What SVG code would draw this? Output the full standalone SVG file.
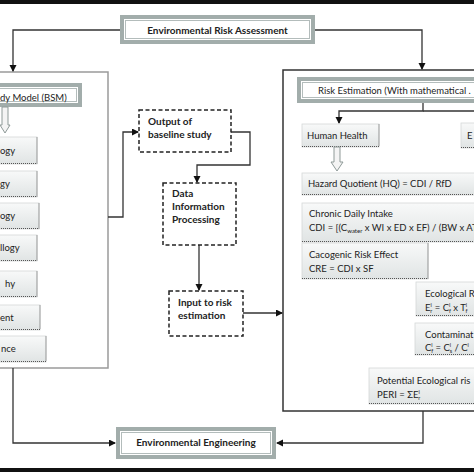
<svg xmlns="http://www.w3.org/2000/svg" width="474" height="474" viewBox="0 0 474 474">
<defs>
<linearGradient id="g" x1="0" y1="0" x2="0" y2="1">
<stop offset="0" stop-color="#f8f9f9"/>
<stop offset="1" stop-color="#e0e4e4"/>
</linearGradient>
<marker id="arr" markerWidth="8" markerHeight="8" refX="6" refY="3.5" orient="auto" markerUnits="userSpaceOnUse">
<path d="M0,0 L7,3.5 L0,7 Z" fill="#111"/>
</marker>
<style>
.t{font-family:Lato,"Liberation Sans",sans-serif;font-size:9.5px;fill:#222}
.b{font-family:Lato,"Liberation Sans",sans-serif;font-size:10px;font-weight:bold;fill:#222}
.dout{fill:#fff;stroke:#a2adab;stroke-width:4}
.din{fill:none;stroke:#b3bcbb;stroke-width:1}
.gb{fill:url(#g);stroke:#d4d8d8;stroke-width:0.8}
.dot{fill:none;stroke:#555;stroke-width:1;stroke-dasharray:1 1}
.dash{fill:#fff;stroke:#222;stroke-width:1.5;stroke-dasharray:4 2.5}
.c{fill:none;stroke:#333;stroke-width:1.3}
.ha{fill:#f4f4f4;stroke:#8f9a98;stroke-width:1}
</style>
</defs>
<rect x="0" y="0" width="474" height="474" fill="#fff"/>
<rect x="0" y="0" width="474" height="4" fill="#111"/>
<rect x="0" y="468" width="474" height="4" fill="#111"/>

<g id="left-panel">
<rect x="-2" y="72" width="110" height="296" fill="#fff" stroke="#9a9a9a" stroke-width="1.5"/>
</g>
<g id="right-panel">
<rect x="283" y="70" width="200" height="341" fill="#fff" stroke="#333" stroke-width="1.5"/>
</g>

<g id="connectors">
<path class="c" d="M120,30 H13 V71" marker-end="url(#arr)"/>
<path class="c" d="M315,30 H422 V69" marker-end="url(#arr)"/>
<path class="c" d="M108,217 H123 V132 H138" marker-end="url(#arr)"/>
<path class="c" d="M231,132 H250 V165 H197 V182" marker-end="url(#arr)"/>
<path class="c" d="M199,245 V290" marker-end="url(#arr)"/>
<path class="c" d="M243,313 H282" marker-end="url(#arr)"/>
<path class="c" d="M423,103 V111 H339 V123" marker-end="url(#arr)"/>
<path class="c" d="M423,111 H474"/>
<path class="c" d="M13,368 V443 H115" marker-end="url(#arr)"/>
<path class="c" d="M423,411 V443 H277" marker-end="url(#arr)"/>
</g>

<g id="era">
<rect class="dout" x="122" y="17" width="191" height="25"/>
<rect class="din" x="125.5" y="20.5" width="184" height="18"/>
<text class="b" x="217.5" y="34" text-anchor="middle">Environmental Risk Assessment</text>
</g>

<g id="bsm">
<rect class="dout" x="-8" y="85" width="88" height="20"/>
<rect class="din" x="-4.5" y="88.5" width="81" height="13"/>
<text class="t" x="0" y="101">dy Model (BSM)</text>
</g>
<g id="bsm-arrow">
<path class="ha" d="M2,107 H8 V125 H10 L5,133 L0,125 H2 Z"/>
</g>

<g id="l1"><rect class="gb" x="-5" y="137" width="42" height="27"/><path class="dot" d="M-5,163.5 H37 V137"/><text class="t" x="0" y="154">ogy</text></g>
<g id="l2"><rect class="gb" x="-5" y="171" width="42" height="26"/><path class="dot" d="M-5,196.5 H37 V171"/><text class="t" x="0" y="187">gy</text></g>
<g id="l3"><rect class="gb" x="-5" y="203" width="44" height="26"/><path class="dot" d="M-5,228.5 H39 V203"/><text class="t" x="0" y="219">ogy</text></g>
<g id="l4"><rect class="gb" x="-5" y="235" width="42" height="26"/><path class="dot" d="M-5,260.5 H37 V235"/><text class="t" x="0" y="251">llogy</text></g>
<g id="l5"><rect class="gb" x="-5" y="271" width="42" height="26"/><path class="dot" d="M-5,296.5 H37 V271"/><text class="t" x="5" y="287">hy</text></g>
<g id="l6"><rect class="gb" x="-5" y="305" width="45" height="25"/><path class="dot" d="M-5,329.5 H40 V305"/><text class="t" x="0" y="321">ent</text></g>
<g id="l7"><rect class="gb" x="-5" y="336" width="51" height="26"/><path class="dot" d="M-5,361.5 H46 V336"/><text class="t" x="1" y="352">nce</text></g>

<g id="output">
<rect class="dash" x="139" y="110" width="92" height="42"/>
<text class="b" x="148" y="125">Output of</text>
<text class="b" x="148" y="138">baseline study</text>
</g>
<g id="data">
<rect class="dash" x="163" y="183" width="73" height="62"/>
<text class="b" x="172" y="197">Data</text>
<text class="b" x="172" y="210">Information</text>
<text class="b" x="172" y="223">Processing</text>
</g>
<g id="input">
<rect class="dash" x="169" y="291" width="74" height="45"/>
<text class="b" x="178" y="306">Input to risk</text>
<text class="b" x="178" y="319">estimation</text>
</g>

<g id="risk-est">
<rect class="dout" x="299" y="79" width="190" height="22"/>
<rect class="din" x="302.5" y="82.5" width="183" height="15"/>
<text class="t" x="318" y="94">Risk Estimation (With mathematical .</text>
</g>

<g id="human"><rect class="gb" x="302" y="124" width="77" height="23"/><path class="dot" d="M302,146.5 H379 V124"/><text class="t" x="307" y="139">Human Health</text></g>
<g id="hh-arrow"><path class="ha" d="M334,147 H340 V162 H343 L337,171 L331,162 H334 Z"/></g>
<g id="eco"><rect class="gb" x="461" y="123" width="20" height="25"/><path class="dot" d="M461,147.5 H481"/><text class="t" x="467" y="139">E</text></g>

<g id="hq"><rect class="gb" x="302" y="173" width="180" height="22"/><path class="dot" d="M302,194.5 H482"/><text class="t" x="308" y="187">Hazard Quotient (HQ) = CDI / RfD</text></g>

<g id="cdi"><rect class="gb" x="302" y="203" width="180" height="39"/><path class="dot" d="M302,241.5 H482"/>
<text class="t" x="309" y="217">Chronic Daily Intake</text>
<text class="t" x="309" y="231">CDI = [(C<tspan font-size="6" dy="2">water</tspan><tspan dy="-2"> x WI x ED x EF) / (BW x AT</tspan></text>
</g>

<g id="cre"><rect class="gb" x="302" y="243" width="126" height="36"/><path class="dot" d="M302,278.5 H428 V243"/>
<text class="t" x="309" y="258">Cacogenic Risk Effect</text>
<text class="t" x="309" y="272">CRE = CDI x SF</text>
</g>

<g id="eco-r"><rect class="gb" x="416" y="282" width="66" height="34"/><path class="dot" d="M416,315.5 H482"/>
<text class="t" x="425" y="297">Ecological R</text>
<text class="t" x="425" y="311">E<tspan font-size="5.5" dy="-4">i</tspan><tspan font-size="5.5" dx="-1.5" dy="6">r</tspan><tspan dy="-2"> = C</tspan><tspan font-size="5.5" dy="-4">i</tspan><tspan font-size="5.5" dx="-1.5" dy="6">f</tspan><tspan dy="-2"> x T</tspan><tspan font-size="5.5" dy="-4">i</tspan><tspan font-size="5.5" dx="-1.5" dy="6">f</tspan></text>
</g>

<g id="contam"><rect class="gb" x="415" y="323" width="67" height="32"/><path class="dot" d="M415,354.5 H482"/>
<text class="t" x="425" y="338">Contaminat</text>
<text class="t" x="425" y="351">C<tspan font-size="5.5" dy="-4">i</tspan><tspan font-size="5.5" dx="-1.5" dy="6">f</tspan><tspan dy="-2"> = C</tspan><tspan font-size="5.5" dy="-4">i</tspan><tspan font-size="5.5" dx="-1.5" dy="6">s</tspan><tspan dy="-2"> / C</tspan><tspan font-size="5.5" dy="-4">i</tspan></text>
</g>

<g id="peri"><rect class="gb" x="369" y="368" width="113" height="36"/><path class="dot" d="M369,403.5 H482"/>
<text class="t" x="377" y="384">Potential Ecological ris</text>
<text class="t" x="377" y="398">PERI = ΣE<tspan font-size="5.5" dy="-4">i</tspan><tspan font-size="5.5" dx="-1.5" dy="6">r</tspan></text>
</g>

<g id="env-eng">
<rect class="dout" x="118" y="429" width="156" height="28"/>
<rect class="din" x="121.5" y="432.5" width="149" height="21"/>
<text class="b" x="196" y="446" text-anchor="middle">Environmental Engineering</text>
</g>
</svg>
